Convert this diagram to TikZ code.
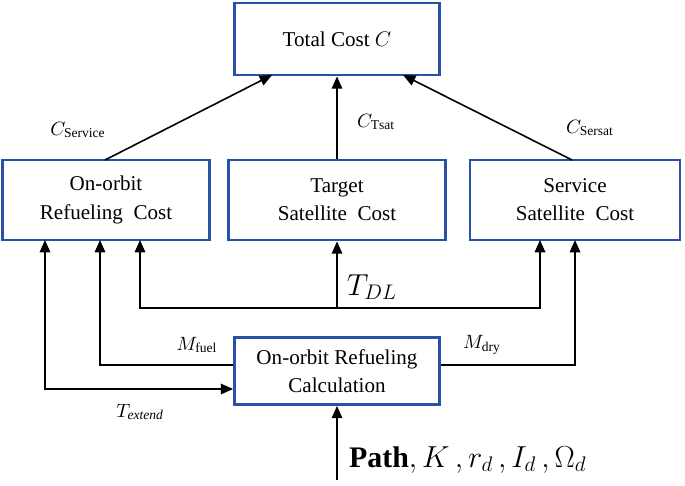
\documentclass[tikz,border=0pt]{standalone}
\usepackage{fontspec}
\setmainfont{Liberation Serif}
\usepackage{tikz}
\usetikzlibrary{arrows.meta}
\definecolor{boxblue}{RGB}{40,80,170}
\begin{document}
\begin{tikzpicture}[x=0.02cm,y=-0.02cm,
  box/.style={draw=boxblue, line width=1.6pt, fill=white, align=center,
    font=\fontsize{12}{16}\selectfont, inner sep=0pt},
  flow/.style={-{Triangle[length=7pt,width=6pt]}, line width=0.9pt},
  lbl/.style={font=\fontsize{11}{13}\selectfont}]

\useasboundingbox (0,0) rectangle (685,485);

% boxes
\node[box, minimum width=205*0.02cm, minimum height=72*0.02cm] (total) at (337,39) {Total Cost $C$};
\node[box, minimum width=207*0.02cm, minimum height=80*0.02cm] (refuel) at (106,200) {On-orbit\\Refueling\ \ Cost};
\node[box, minimum width=217*0.02cm, minimum height=80*0.02cm] (target) at (337,200) {Target\\Satellite\ \ Cost};
\node[box, minimum width=210*0.02cm, minimum height=80*0.02cm] (service) at (575,200) {Service\\Satellite\ \ Cost};
\node[box, minimum width=205*0.02cm, minimum height=67*0.02cm] (calc) at (337,371) {On-orbit Refueling\\Calculation};

% costs to total
\draw[flow] (105,160) -- (272,75);
\draw[flow] (target.north) -- (total.south);
\draw[flow] (572,160) -- (403,75);
\node[lbl] (cs) at (78,130) {$C_{\mathrm{Service}}$};
\node[lbl] (ct) at (376,122) {$C_{\mathrm{Tsat}}$};
\node[lbl] (cr) at (590,128) {$C_{\mathrm{Sersat}}$};

% T_DL
\coordinate (dl) at (337,308);
\draw[flow] (dl) -- (target.south);
\draw[flow] (dl) -| (140,240);
\draw[flow] (dl) -| (540,240);
\node[font=\fontsize{18}{20}\selectfont] (tdl) at (372,287) {$T_{DL}$};

% masses
\draw[flow] (calc.west |- 0,365) -| (100,240);
\draw[flow] (calc.east |- 0,365) -| (575,240);
\node[lbl] (mf) at (197,345) {$M_{\mathrm{fuel}}$};
\node[lbl] (md) at (482,345) {$M_{\mathrm{dry}}$};

% T_extend
\draw[{Triangle[length=7pt,width=6pt]}-{Triangle[length=7pt,width=6pt]}, line width=0.9pt]
  (45,240) |- (calc.west |- 0,389);
\node[lbl] (te) at (140,412) {$T_{\mathit{extend}}$};

% inputs
\coordinate (in) at (337,480);
\draw[flow] (in) -- (calc.south);
\node[anchor=west, font=\fontsize{17}{20}\selectfont] (par) at (343,460)
  {\textbf{Path}$,K\,,r_d\,,I_d\,,\Omega_d$};
\end{tikzpicture}
\end{document}
